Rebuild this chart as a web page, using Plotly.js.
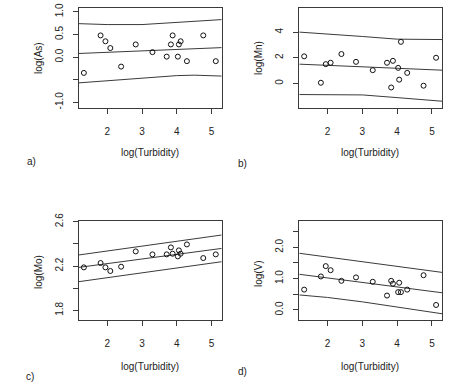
<!DOCTYPE html>
<html>
<head>
<meta charset="utf-8">
<script src="https://cdn.plot.ly/plotly-3.0.1.min.js"></script>
<style>html,body{margin:0;padding:0;background:#fff;}#chart{width:474px;height:388px;}</style>
</head>
<body>
<div id="chart"></div>
<script>
// Observations (log turbidity shared by all four panels)
const logTurbidity = [1.33,1.81,1.95,2.09,2.40,2.82,3.30,3.71,3.83,3.88,4.03,4.06,4.11,4.29,4.76,5.12];
const logAs = [-0.35,0.48,0.35,0.20,-0.21,0.28,0.11,0.01,0.28,0.48,0.01,0.28,0.35,-0.09,0.48,-0.09];
const logMn = [2.11,0.05,1.50,1.61,2.29,1.68,1.03,1.61,-0.32,1.76,1.21,0.29,3.24,0.82,-0.18,2.00];
const logMo = [2.188,2.227,2.188,2.155,2.194,2.332,2.305,2.305,2.368,2.311,2.287,2.341,2.311,2.395,2.272,2.305];
const logV  = [0.65,1.07,1.40,1.27,0.93,1.04,0.90,0.46,0.93,0.84,0.57,0.87,0.57,0.65,1.11,0.16];

// Fitted line and prediction band, sampled along the x axis
const bandX = [1.19,2,3,4,4.5,5.29];
const asUpper = [0.74,0.72,0.72,0.77,0.80,0.83];
const asFit   = [0.08,0.105,0.14,0.17,0.185,0.21];
const asLower = [-0.57,-0.52,-0.46,-0.41,-0.40,-0.42];
const mnUpper = [4.00,3.86,3.66,3.45,3.43,3.42];
const mnFit   = [1.50,1.41,1.29,1.18,1.12,1.03];
const mnLower = [-0.87,-0.88,-0.90,-1.11,-1.22,-1.39];
const moUpper = [2.300,2.335,2.380,2.425,2.445,2.480];
const moFit   = [2.188,2.222,2.263,2.305,2.326,2.359];
const moLower = [2.059,2.095,2.138,2.182,2.204,2.239];
const vUpper  = [1.81,1.69,1.54,1.39,1.32,1.20];
const vFit    = [1.14,1.02,0.88,0.74,0.67,0.55];
const vLower  = [0.48,0.40,0.26,0.10,0.02,-0.12];

// Axis ticks
const xTicks = [2,3,4,5];
const asTicks = [-1,-0.5,0,0.5,1];
const asTickText = ['-1.0','','0.0','0.5','1.0'];
const mnTicks = [0,2,4];
const mnTickText = ['0','2','4'];
const moTicks = [1.8,2.0,2.2,2.4,2.6];
const moTickText = ['1.8','','2.2','','2.6'];
const vTicks = [0,0.5,1,1.5,2,2.5];
const vTickText = ['0.0','','1.0','','2.0',''];

const panelLetters = ['a)','b)','c)','d)'];
const yTitles = ['log(As)','log(Mn)','log(Mo)','log(V)'];
const xTitle = 'log(Turbidity)';

const W = 474, H = 388;
const lineCol = '#3a3a3a', textCol = '#222';
const font = {family:'"Liberation Sans", Arial, sans-serif', size:10, color:textCol};

const panels = [
  {y:logAs, up:asUpper, fit:asFit, lo:asLower, ticks:asTicks, tt:asTickText, yr:[-1.12,1.08], xd:[79,221.7], yd:[8.3,107.7]},
  {y:logMn, up:mnUpper, fit:mnFit, lo:mnLower, ticks:mnTicks, tt:mnTickText, yr:[-1.92,5.92], xd:[299.3,442], yd:[7.5,108]},
  {y:logMo, up:moUpper, fit:moFit, lo:moLower, ticks:moTicks, tt:moTickText, yr:[1.713,2.609], xd:[79,221.7], yd:[220.7,320]},
  {y:logV,  up:vUpper,  fit:vFit,  lo:vLower,  ticks:vTicks,  tt:vTickText,  yr:[-0.32,2.85], xd:[299.3,442], yd:[220.7,320]}
];
const letterPos = [[32,161],[243,163],[30,376],[243,371]];
const xTitlePos = [[150,153],[370,153],[150,366],[370,366]];
const yTitlePos = [[38,58],[258,58],[38,272],[258,274]];

const data = [];
const layout = {
  width:W, height:H, margin:{l:0,r:0,t:0,b:0},
  paper_bgcolor:'#fff', plot_bgcolor:'#fff', showlegend:false, font:font,
  annotations:[]
};
panels.forEach((p,i)=>{
  const n = i+1;
  const xa = 'x'+(n===1?'':n), ya = 'y'+(n===1?'':n);
  [p.up,p.fit,p.lo].forEach(arr=>{
    data.push({x:bandX, y:arr, xaxis:xa, yaxis:ya, type:'scatter', mode:'lines',
      line:{color:lineCol, width:1}, hoverinfo:'skip'});
  });
  data.push({x:logTurbidity, y:p.y, xaxis:xa, yaxis:ya, type:'scatter', mode:'markers',
    marker:{symbol:'circle-open', size:5, color:'#111', line:{width:1, color:'#111'}}});
  const common = {showline:true, mirror:true, linecolor:lineCol, linewidth:1, showgrid:false, zeroline:false,
    ticks:'outside', ticklen:5, tickcolor:lineCol, tickfont:font};
  layout['xaxis'+(n===1?'':n)] = Object.assign({}, common, {
    domain:[p.xd[0]/W, p.xd[1]/W], range:[1.19,5.29], tickvals:xTicks, ticktext:xTicks.map(String),
    anchor:ya, ticklabelstandoff:9});
  layout['yaxis'+(n===1?'':n)] = Object.assign({}, common, {
    domain:[1-p.yd[1]/H, 1-p.yd[0]/H], range:p.yr, tickvals:p.ticks, ticktext:p.tt,
    anchor:xa, tickangle:-90, ticklabelstandoff:6});
  layout.annotations.push({xref:'paper', yref:'paper', x:letterPos[i][0]/W, y:1-letterPos[i][1]/H,
    text:panelLetters[i], showarrow:false, xanchor:'center', yanchor:'middle', font:font});
  layout.annotations.push({xref:'paper', yref:'paper', x:xTitlePos[i][0]/W, y:1-xTitlePos[i][1]/H,
    text:xTitle, showarrow:false, xanchor:'center', yanchor:'middle', font:font});
  layout.annotations.push({xref:'paper', yref:'paper', x:yTitlePos[i][0]/W, y:1-yTitlePos[i][1]/H,
    text:yTitles[i], textangle:-90, showarrow:false, xanchor:'center', yanchor:'middle', font:font});
});
Plotly.newPlot('chart', data, layout, {staticPlot:true, displayModeBar:false});
</script>
</body>
</html>
